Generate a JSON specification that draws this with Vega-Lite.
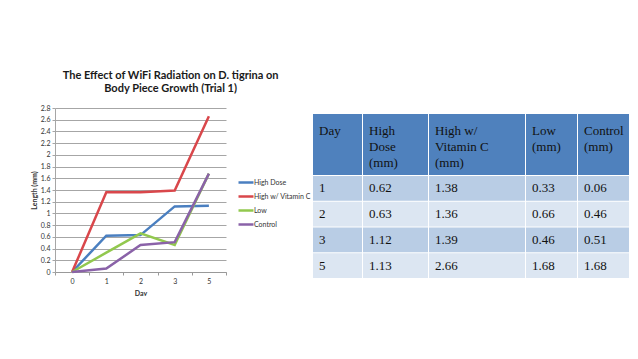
{
  "$schema": "https://vega.github.io/schema/vega-lite/v6.json",
  "background": "white",
  "padding": {"left": 30, "top": 70, "right": 0, "bottom": 0},
  "autosize": {"type": "pad"},
  "config": {"view": {"stroke": null}, "font": "Lato"},
  "datasets": {
    "growth": [
      {"day": "0", "series": "High Dose", "length": 0},
      {"day": "1", "series": "High Dose", "length": 0.62},
      {"day": "2", "series": "High Dose", "length": 0.63},
      {"day": "3", "series": "High Dose", "length": 1.12},
      {"day": "5", "series": "High Dose", "length": 1.13},
      {"day": "0", "series": "High w/ Vitamin C", "length": 0},
      {"day": "1", "series": "High w/ Vitamin C", "length": 1.36},
      {"day": "2", "series": "High w/ Vitamin C", "length": 1.36},
      {"day": "3", "series": "High w/ Vitamin C", "length": 1.39},
      {"day": "5", "series": "High w/ Vitamin C", "length": 2.66},
      {"day": "0", "series": "Low", "length": 0},
      {"day": "1", "series": "Low", "length": 0.33},
      {"day": "2", "series": "Low", "length": 0.66},
      {"day": "3", "series": "Low", "length": 0.46},
      {"day": "5", "series": "Low", "length": 1.68},
      {"day": "0", "series": "Control", "length": 0},
      {"day": "1", "series": "Control", "length": 0.06},
      {"day": "2", "series": "Control", "length": 0.46},
      {"day": "3", "series": "Control", "length": 0.51},
      {"day": "5", "series": "Control", "length": 1.68}
    ],
    "header": [
      {"col": "Day", "label": "Day"},
      {"col": "High Dose", "label": "High\nDose\n(mm)"},
      {"col": "High w/ Vitamin C", "label": "High w/\nVitamin C\n(mm)"},
      {"col": "Low", "label": "Low\n(mm)"},
      {"col": "Control", "label": "Control\n(mm)"}
    ],
    "cells": [
      {"day": "1", "col": "Day", "value": "1"},
      {"day": "1", "col": "High Dose", "value": "0.62"},
      {"day": "1", "col": "High w/ Vitamin C", "value": "1.38"},
      {"day": "1", "col": "Low", "value": "0.33"},
      {"day": "1", "col": "Control", "value": "0.06"},
      {"day": "2", "col": "Day", "value": "2"},
      {"day": "2", "col": "High Dose", "value": "0.63"},
      {"day": "2", "col": "High w/ Vitamin C", "value": "1.36"},
      {"day": "2", "col": "Low", "value": "0.66"},
      {"day": "2", "col": "Control", "value": "0.46"},
      {"day": "3", "col": "Day", "value": "3"},
      {"day": "3", "col": "High Dose", "value": "1.12"},
      {"day": "3", "col": "High w/ Vitamin C", "value": "1.39"},
      {"day": "3", "col": "Low", "value": "0.46"},
      {"day": "3", "col": "Control", "value": "0.51"},
      {"day": "5", "col": "Day", "value": "5"},
      {"day": "5", "col": "High Dose", "value": "1.13"},
      {"day": "5", "col": "High w/ Vitamin C", "value": "2.66"},
      {"day": "5", "col": "Low", "value": "1.68"},
      {"day": "5", "col": "Control", "value": "1.68"}
    ]
  },
  "resolve": {"scale": {"x": "independent", "y": "independent", "color": "independent"}, "legend": {"color": "independent"}},
  "spacing": 2,
  "hconcat": [
    {
      "width": 171,
      "height": 164,
      "data": {"name": "growth"},
      "title": {
        "text": ["The Effect of WiFi Radiation on D. tigrina on", "Body Piece Growth (Trial 1)"],
        "font": "Lato", "fontSize": 11, "fontWeight": "bold", "color": "#1a1a1a",
        "lineHeight": 13, "anchor": "middle", "frame": "bounds", "offset": 10
      },
      "mark": {"type": "line", "strokeWidth": 2.5},
      "encoding": {
        "x": {
          "field": "day", "type": "ordinal", "sort": ["0", "1", "2", "3", "5"],
          "scale": {"type": "band", "paddingInner": 0, "paddingOuter": 0},
          "axis": {
            "title": "Day", "titleFontSize": 7, "titleFontWeight": "bold", "titleColor": "#333333", "titlePadding": 5,
            "labelFontSize": 7, "labelAngle": 0, "labelPadding": 2, "labelColor": "#333333",
            "tickBand": "extent", "tickSize": 3, "tickColor": "#999999", "domainColor": "#999999", "grid": false
          }
        },
        "y": {
          "field": "length", "type": "quantitative",
          "scale": {"domain": [0, 2.8], "nice": false},
          "axis": {
            "title": "Length (mm)", "titleFontSize": 7, "titleFontWeight": "bold", "titleColor": "#333333", "titlePadding": 3,
            "values": [0, 0.2, 0.4, 0.6, 0.8, 1, 1.2, 1.4, 1.6, 1.8, 2, 2.2, 2.4, 2.6, 2.8],
            "format": "~g", "labelFontSize": 7, "labelColor": "#333333", "labelPadding": 2,
            "tickSize": 3, "tickColor": "#a6a6a6", "gridColor": "#a6a6a6", "domainColor": "#a6a6a6"
          }
        },
        "color": {
          "field": "series", "type": "nominal",
          "scale": {
            "domain": ["High Dose", "High w/ Vitamin C", "Low", "Control"],
            "range": ["#4a7fc0", "#d9474b", "#92c84e", "#8a62a8"]
          },
          "legend": {
            "title": null, "orient": "none", "legendX": 182, "legendY": 65.5,
            "symbolType": "stroke", "symbolSize": 225, "symbolStrokeWidth": 2.5,
            "labelFontSize": 7, "labelColor": "#333333", "labelOffset": -1, "rowPadding": 0, "padding": 0
          }
        }
      }
    },
    {
      "spacing": 1,
      "resolve": {"scale": {"x": "independent", "y": "independent", "color": "independent"}},
      "vconcat": [
        {
          "width": 316, "height": 5,
          "data": {"values": [{}]},
          "mark": {"type": "rect", "opacity": 0},
          "encoding": {}
        },
        {
          "spacing": 1,
          "resolve": {"scale": {"x": "independent", "y": "independent"}},
          "hconcat": [
            {"width": 49, "height": 61, "view": {"fill": "#4f81bd"}, "data": {"name": "header"}, "transform": [{"filter": "datum.col == 'Day'"}],
             "mark": {"type": "text", "align": "left", "baseline": "alphabetic", "dx": 6, "dy": 21, "lineBreak": "\n", "lineHeight": 16, "font": "Liberation Serif", "fontSize": 13, "color": "#111111"},
             "encoding": {"x": {"field": "col", "type": "nominal", "bandPosition": 0, "scale": {"type": "band", "paddingInner": 0, "paddingOuter": 0}, "axis": null},
                          "y": {"field": "col", "type": "nominal", "bandPosition": 0, "scale": {"type": "band", "paddingInner": 0, "paddingOuter": 0}, "axis": null},
                          "text": {"field": "label"}}},
            {"width": 65, "height": 61, "view": {"fill": "#4f81bd"}, "data": {"name": "header"}, "transform": [{"filter": "datum.col == 'High Dose'"}],
             "mark": {"type": "text", "align": "left", "baseline": "alphabetic", "dx": 6, "dy": 21, "lineBreak": "\n", "lineHeight": 16, "font": "Liberation Serif", "fontSize": 13, "color": "#111111"},
             "encoding": {"x": {"field": "col", "type": "nominal", "bandPosition": 0, "scale": {"type": "band", "paddingInner": 0, "paddingOuter": 0}, "axis": null},
                          "y": {"field": "col", "type": "nominal", "bandPosition": 0, "scale": {"type": "band", "paddingInner": 0, "paddingOuter": 0}, "axis": null},
                          "text": {"field": "label"}}},
            {"width": 96, "height": 61, "view": {"fill": "#4f81bd"}, "data": {"name": "header"}, "transform": [{"filter": "datum.col == 'High w/ Vitamin C'"}],
             "mark": {"type": "text", "align": "left", "baseline": "alphabetic", "dx": 6, "dy": 21, "lineBreak": "\n", "lineHeight": 16, "font": "Liberation Serif", "fontSize": 13, "color": "#111111"},
             "encoding": {"x": {"field": "col", "type": "nominal", "bandPosition": 0, "scale": {"type": "band", "paddingInner": 0, "paddingOuter": 0}, "axis": null},
                          "y": {"field": "col", "type": "nominal", "bandPosition": 0, "scale": {"type": "band", "paddingInner": 0, "paddingOuter": 0}, "axis": null},
                          "text": {"field": "label"}}},
            {"width": 51, "height": 61, "view": {"fill": "#4f81bd"}, "data": {"name": "header"}, "transform": [{"filter": "datum.col == 'Low'"}],
             "mark": {"type": "text", "align": "left", "baseline": "alphabetic", "dx": 6, "dy": 21, "lineBreak": "\n", "lineHeight": 16, "font": "Liberation Serif", "fontSize": 13, "color": "#111111"},
             "encoding": {"x": {"field": "col", "type": "nominal", "bandPosition": 0, "scale": {"type": "band", "paddingInner": 0, "paddingOuter": 0}, "axis": null},
                          "y": {"field": "col", "type": "nominal", "bandPosition": 0, "scale": {"type": "band", "paddingInner": 0, "paddingOuter": 0}, "axis": null},
                          "text": {"field": "label"}}},
            {"width": 51, "height": 61, "view": {"fill": "#4f81bd"}, "data": {"name": "header"}, "transform": [{"filter": "datum.col == 'Control'"}],
             "mark": {"type": "text", "align": "left", "baseline": "alphabetic", "dx": 6, "dy": 21, "lineBreak": "\n", "lineHeight": 16, "font": "Liberation Serif", "fontSize": 13, "color": "#111111"},
             "encoding": {"x": {"field": "col", "type": "nominal", "bandPosition": 0, "scale": {"type": "band", "paddingInner": 0, "paddingOuter": 0}, "axis": null},
                          "y": {"field": "col", "type": "nominal", "bandPosition": 0, "scale": {"type": "band", "paddingInner": 0, "paddingOuter": 0}, "axis": null},
                          "text": {"field": "label"}}}
          ]
        },
        {
          "spacing": 1,
          "resolve": {"scale": {"x": "independent", "y": "independent", "color": "independent"}},
          "hconcat": [
            {"width": 49, "height": 102, "data": {"name": "cells"}, "transform": [{"filter": "datum.col == 'Day'"}],
             "encoding": {"x": {"field": "col", "type": "nominal", "scale": {"type": "band", "paddingInner": 0, "paddingOuter": 0}, "axis": null},
                          "y": {"field": "day", "type": "ordinal", "sort": ["1", "2", "3", "5"], "scale": {"type": "band", "paddingInner": 0.04, "paddingOuter": 0}, "axis": null}},
             "layer": [
               {"mark": {"type": "rect"},
                "encoding": {"color": {"field": "day", "type": "nominal", "scale": {"domain": ["1", "2", "3", "5"], "range": ["#b9cde5", "#dce6f2", "#b9cde5", "#dce6f2"]}, "legend": null}}},
               {"mark": {"type": "text", "align": "left", "baseline": "middle", "dx": 6, "font": "Liberation Serif", "fontSize": 13, "color": "#111111"},
                "encoding": {"x": {"field": "col", "type": "nominal", "bandPosition": 0, "axis": null}, "text": {"field": "value"}}}
             ]},
            {"width": 65, "height": 102, "data": {"name": "cells"}, "transform": [{"filter": "datum.col == 'High Dose'"}],
             "encoding": {"x": {"field": "col", "type": "nominal", "scale": {"type": "band", "paddingInner": 0, "paddingOuter": 0}, "axis": null},
                          "y": {"field": "day", "type": "ordinal", "sort": ["1", "2", "3", "5"], "scale": {"type": "band", "paddingInner": 0.04, "paddingOuter": 0}, "axis": null}},
             "layer": [
               {"mark": {"type": "rect"},
                "encoding": {"color": {"field": "day", "type": "nominal", "scale": {"domain": ["1", "2", "3", "5"], "range": ["#b9cde5", "#dce6f2", "#b9cde5", "#dce6f2"]}, "legend": null}}},
               {"mark": {"type": "text", "align": "left", "baseline": "middle", "dx": 6, "font": "Liberation Serif", "fontSize": 13, "color": "#111111"},
                "encoding": {"x": {"field": "col", "type": "nominal", "bandPosition": 0, "axis": null}, "text": {"field": "value"}}}
             ]},
            {"width": 96, "height": 102, "data": {"name": "cells"}, "transform": [{"filter": "datum.col == 'High w/ Vitamin C'"}],
             "encoding": {"x": {"field": "col", "type": "nominal", "scale": {"type": "band", "paddingInner": 0, "paddingOuter": 0}, "axis": null},
                          "y": {"field": "day", "type": "ordinal", "sort": ["1", "2", "3", "5"], "scale": {"type": "band", "paddingInner": 0.04, "paddingOuter": 0}, "axis": null}},
             "layer": [
               {"mark": {"type": "rect"},
                "encoding": {"color": {"field": "day", "type": "nominal", "scale": {"domain": ["1", "2", "3", "5"], "range": ["#b9cde5", "#dce6f2", "#b9cde5", "#dce6f2"]}, "legend": null}}},
               {"mark": {"type": "text", "align": "left", "baseline": "middle", "dx": 6, "font": "Liberation Serif", "fontSize": 13, "color": "#111111"},
                "encoding": {"x": {"field": "col", "type": "nominal", "bandPosition": 0, "axis": null}, "text": {"field": "value"}}}
             ]},
            {"width": 51, "height": 102, "data": {"name": "cells"}, "transform": [{"filter": "datum.col == 'Low'"}],
             "encoding": {"x": {"field": "col", "type": "nominal", "scale": {"type": "band", "paddingInner": 0, "paddingOuter": 0}, "axis": null},
                          "y": {"field": "day", "type": "ordinal", "sort": ["1", "2", "3", "5"], "scale": {"type": "band", "paddingInner": 0.04, "paddingOuter": 0}, "axis": null}},
             "layer": [
               {"mark": {"type": "rect"},
                "encoding": {"color": {"field": "day", "type": "nominal", "scale": {"domain": ["1", "2", "3", "5"], "range": ["#b9cde5", "#dce6f2", "#b9cde5", "#dce6f2"]}, "legend": null}}},
               {"mark": {"type": "text", "align": "left", "baseline": "middle", "dx": 6, "font": "Liberation Serif", "fontSize": 13, "color": "#111111"},
                "encoding": {"x": {"field": "col", "type": "nominal", "bandPosition": 0, "axis": null}, "text": {"field": "value"}}}
             ]},
            {"width": 51, "height": 102, "data": {"name": "cells"}, "transform": [{"filter": "datum.col == 'Control'"}],
             "encoding": {"x": {"field": "col", "type": "nominal", "scale": {"type": "band", "paddingInner": 0, "paddingOuter": 0}, "axis": null},
                          "y": {"field": "day", "type": "ordinal", "sort": ["1", "2", "3", "5"], "scale": {"type": "band", "paddingInner": 0.04, "paddingOuter": 0}, "axis": null}},
             "layer": [
               {"mark": {"type": "rect"},
                "encoding": {"color": {"field": "day", "type": "nominal", "scale": {"domain": ["1", "2", "3", "5"], "range": ["#b9cde5", "#dce6f2", "#b9cde5", "#dce6f2"]}, "legend": null}}},
               {"mark": {"type": "text", "align": "left", "baseline": "middle", "dx": 6, "font": "Liberation Serif", "fontSize": 13, "color": "#111111"},
                "encoding": {"x": {"field": "col", "type": "nominal", "bandPosition": 0, "axis": null}, "text": {"field": "value"}}}
             ]}
          ]
        }
      ]
    }
  ]
}
